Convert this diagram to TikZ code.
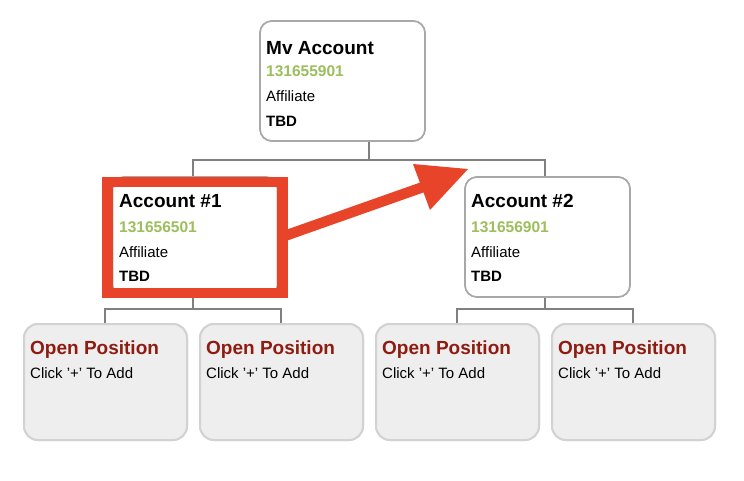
\documentclass[tikz,border=0pt]{standalone}
\usepackage{fontspec}
\setmainfont{Liberation Sans}
\definecolor{acctgreen}{HTML}{9CBE5C}
\definecolor{opendred}{HTML}{8E1C10}
\definecolor{hlred}{HTML}{E8442A}
\definecolor{connline}{HTML}{808080}
\definecolor{boxline}{HTML}{A8A8A8}
\definecolor{openfill}{HTML}{EEEEEE}
\definecolor{openline}{HTML}{D2D2D2}
\begin{document}
\begin{tikzpicture}[x=1pt,y=-1pt,
  acctbox/.style={draw=boxline,line width=1.6pt,fill=white,rounded corners=12pt,minimum width=165pt,minimum height=120pt,inner sep=0pt},
  openbox/.style={draw=openline,line width=2pt,fill=openfill,rounded corners=14pt,minimum width=163pt,minimum height=116pt,inner sep=0pt},
  title/.style={anchor=base west,inner sep=0pt,font=\fontsize{19}{22}\selectfont\bfseries},
  idtxt/.style={anchor=base west,inner sep=0pt,font=\fontsize{15.5}{18}\selectfont\bfseries,text=acctgreen},
  plain/.style={anchor=base west,inner sep=0pt,font=\fontsize{15}{18}\selectfont},
  tbd/.style={anchor=base west,inner sep=0pt,font=\fontsize{15}{18}\selectfont\bfseries},
  opentitle/.style={anchor=base west,inner sep=0pt,font=\fontsize{19}{22}\selectfont\bfseries,text=opendred},
  conn/.style={draw=connline,line width=1.5pt}
]
\useasboundingbox (0,0) rectangle (744,480);

% connectors
\coordinate (topjoin) at (369,160);
\coordinate (lbar) at (193,160);
\coordinate (rbar) at (545,160);
\coordinate (l1bar) at (193,309);
\coordinate (l1l) at (105,309);
\coordinate (l1r) at (281,309);
\coordinate (r1bar) at (545,309);
\coordinate (r1l) at (457,309);
\coordinate (r1r) at (633,309);

% boxes
\node[acctbox] (top) at (342.5,81) {};
\node[acctbox] (acc1) at (195,237) {};
\node[acctbox] (acc2) at (547.5,237) {};
\node[openbox] (o1) at (105.5,382) {};
\node[openbox] (o2) at (281.5,382) {};
\node[openbox] (o3) at (457.5,382) {};
\node[openbox] (o4) at (633.5,382) {};

\draw[conn] (topjoin |- top.south) -- (topjoin);
\draw[conn] (lbar |- acc1.north) -- (lbar) -- (rbar) -- (rbar |- acc2.north);
\draw[conn] (l1bar |- acc1.south) -- (l1bar);
\draw[conn] (l1l |- o1.north) -- (l1l) -- (l1r) -- (l1r |- o2.north);
\draw[conn] (r1bar |- acc2.south) -- (r1bar);
\draw[conn] (r1l |- o3.north) -- (r1l) -- (r1r) -- (r1r |- o4.north);

% redraw box borders over connectors
\node[acctbox] at (top) {};
\node[acctbox] at (acc1) {};
\node[acctbox] at (acc2) {};
\node[openbox] at (o1) {};
\node[openbox] at (o2) {};
\node[openbox] at (o3) {};
\node[openbox] at (o4) {};

% texts top
\node[title] (t1) at (266,54) {Mv Account};
\node[idtxt] (t2) at (266,76.5) {131655901};
\node[plain] (t3) at (266,101.5) {Affiliate};
\node[tbd] (t4) at (266,126.5) {TBD};
% account 1
\node[title] (a1) at (119,207.5) {Account \#1};
\node[idtxt] (a2) at (119,232) {131656501};
\node[plain] (a3) at (119,257) {Affiliate};
\node[tbd] (a4) at (119,281.5) {TBD};
% account 2
\node[title] (b1) at (471,207.5) {Account \#2};
\node[idtxt] (b2) at (471,232) {131656901};
\node[plain] (b3) at (471,257) {Affiliate};
\node[tbd] (b4) at (471,281.5) {TBD};
% open positions
\foreach \n/\x in {o1/30,o2/206,o3/382,o4/558}{
  \node[opentitle] (\n t) at (\x,354) {Open Position};
  \node[plain] (\n c) at (\x,378.5) {Click '+' To Add};
}

% highlight frame
\node[draw=hlred,line width=10.5pt,minimum width=175pt,minimum height=111pt,inner sep=0pt] (hl) at (195,237.5) {};
\coordinate (arrstart) at (283,236.5);
\coordinate (arrneck) at (426,186);
\coordinate (arrtip) at (468,169);
\draw[hlred,line width=10.5pt] (arrstart) -- (arrneck);
\fill[hlred] (413,164) -- (arrtip) -- (430,210) -- cycle;
\end{tikzpicture}
\end{document}
